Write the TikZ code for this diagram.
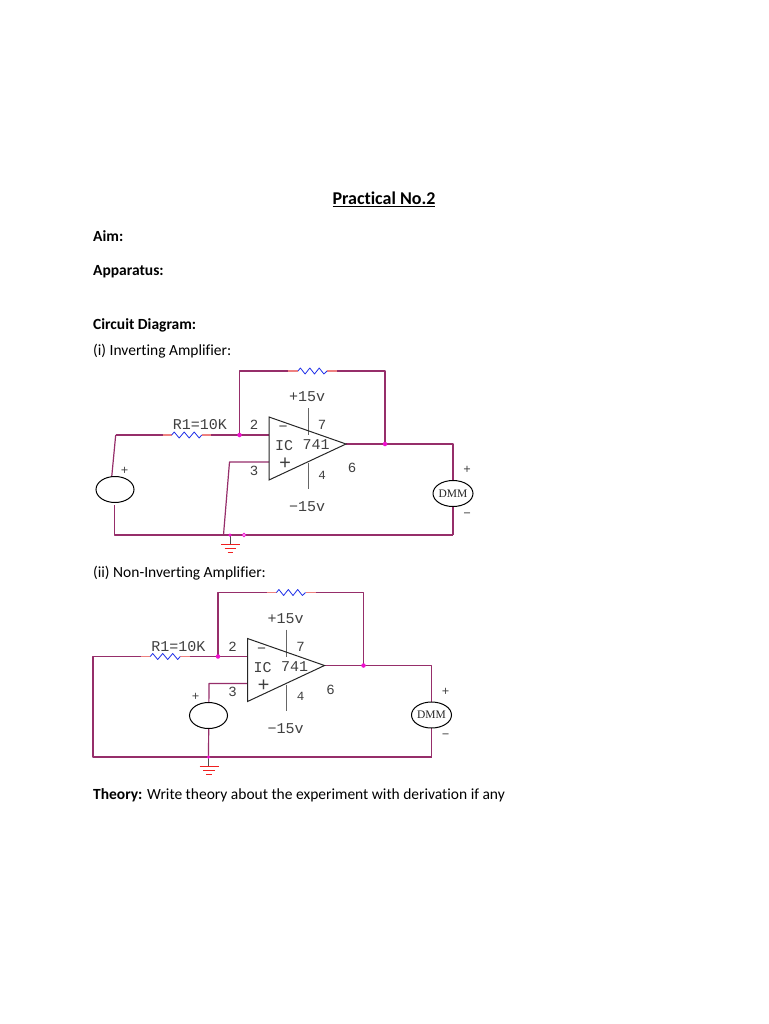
\documentclass[tikz,border=0pt]{standalone}
\usetikzlibrary{shapes.geometric}
\usepackage{fontspec}
\setmainfont{Carlito}[Ligatures=NoCommon]
\newfontfamily\circfont{Liberation Mono}
\newfontfamily\dmmfont{Liberation Serif}
\definecolor{wirecol}{HTML}{962E6A}
\definecolor{leadcol}{HTML}{EE8080}
\definecolor{gndcol}{HTML}{F02020}
\definecolor{zigcol}{HTML}{2030E8}
\definecolor{dotcol}{HTML}{F010D0}
\begin{document}
\begin{tikzpicture}[x=1pt,y=-1pt,
  wire/.style={draw=wirecol,line width=1.2pt,line join=round},
  pinline/.style={draw=black!60,line width=1pt},
  lead/.style={draw=leadcol,line width=1.2pt},
  zig/.style={draw=zigcol,line width=0.8pt,line join=round},
  comp/.style={draw=black!85,line width=1pt},
  gndstem/.style={draw=black!70,line width=1pt},
  gnd/.style={draw=gndcol,line width=1pt},
  dotn/.style={circle,fill=dotcol,inner sep=0pt,minimum size=4.5pt},
  opendot/.style={circle,draw=dotcol,fill=white,line width=0.9pt,inner sep=0pt,minimum size=4.5pt},
  ctext/.style={font=\circfont\fontsize{15}{16}\selectfont,text=black!75,inner sep=0pt},
  pintext/.style={ctext,font=\circfont\fontsize{14}{15}\selectfont},
  smalltext/.style={ctext,font=\circfont\fontsize{12.5}{14}\selectfont},
  ptext/.style={font=\fontsize{15.5}{18}\selectfont,text=black,anchor=base west,inner sep=0pt},
  btext/.style={ptext,font=\fontsize{15.5}{18}\selectfont\bfseries},
  srcshape/.style={shape=ellipse,draw=black,line width=1pt,fill=white,minimum width=38pt,minimum height=26pt,inner sep=0pt},
]
\useasboundingbox (0,0) rectangle (768,1024);
\fill[white] (0,0) rectangle (768,1024);

\node[ptext,anchor=base,font=\fontsize{18}{20}\selectfont\bfseries] (title) at (384,205) {\underline{Practical No.2}};
\node[btext] (aim) at (93,241) {Aim:};
\node[btext] (app) at (93,275) {Apparatus:};
\node[btext] (cd) at (93,329) {Circuit Diagram:};
\node[ptext] (inv) at (93,355) {(i) Inverting Amplifier:};
\node[ptext] (ninv) at (93,577) {(ii) Non-Inverting Amplifier:};
\node[ptext] (th) at (93,799) {\textbf{Theory:} Write theory about the experiment with derivation if any};

\newcommand{\ampbody}[1]{%
  \coordinate (#1tl) at (269,417);
  \coordinate (#1bl) at (269,480);
  \coordinate (#1out) at (346,444);
  \coordinate (#1in) at (269,435);
  \coordinate (#1ip) at (269,462);
  \coordinate (#1j) at (239.5,435);
  \coordinate (#1fa) at (239.5,371);
  \coordinate (#1fb) at (385,371);
  \coordinate (#1k) at (385,444);
  \coordinate (#1dc) at (453,444);
  \coordinate (#1dd) at (453,535);
  \coordinate (#1va) at (308,408);
  \coordinate (#1vb) at (308,435);
  \coordinate (#1vc) at (308,463);
  \coordinate (#1vd) at (308,489);
  \draw[wire] (#1in) -- (#1j) -- (#1fa) -- (#1fb) -- (#1k);
  \draw[draw=white,line width=1.6pt] (298,371) -- (327,371);
  \draw[lead] (288,371) -- (298,371) (327,371) -- (337,371);
  \draw[zig] (298,371) -- ++(2.4,-3) -- ++(4.7,6) -- ++(4.7,-6) -- ++(4.7,6) -- ++(4.7,-6) -- ++(4.7,6) -- (327,371);
  \draw[wire] (#1out) -- (#1k) -- (#1dc) -- (#1dd);
  \node[srcshape,minimum width=40pt] (#1dmm) at (453,493.5) {};
  \node[ctext,font=\dmmfont\fontsize{11.5}{13}\selectfont,text=black!85] (#1dmmt) at (#1dmm) {DMM};
  \draw[pinline] (#1va) -- (#1vb) (#1vc) -- (#1vd);
  \draw[comp] (#1tl) -- (#1out) -- (#1bl) -- cycle;
  \node[ctext] (#1p15) at (307,397) {+15v};
  \node[ctext] (#1m15) at (307,507) {−15v};
  \node[pintext] (#1n7) at (322,425) {7};
  \node[smalltext] (#1n4) at (322,475) {4};
  \node[pintext] (#1n6) at (352,468) {6};
  \node[pintext] (#1n2) at (254,425) {2};
  \node[pintext] (#1n3) at (254,470.5) {3};
  \node[ctext] (#1minus) at (283,429) {−};
  \node[ctext,font=\circfont\fontsize{20}{20}\selectfont] (#1plus) at (285,464) {+};
  \node[ctext] (#1ic) at (284,446) {IC};
  \node[ctext] (#1n741) at (316,445) {741};
  \node[ctext] (#1r1) at (200,425) {R1=10K};
  \node[smalltext] (#1mp) at (467,470) {+};
  \node[smalltext] (#1mm) at (467,515) {−};
  \node[dotn] (#1jd) at (#1j) {};
  \node[dotn] (#1kd) at (#1k) {};
}
\newcommand{\inres}{%
  \draw[draw=white,line width=1.6pt] (171.7,435) -- (201.7,435);
  \draw[lead] (162.7,435) -- (171.7,435) (201.7,435) -- (211,435);
  \draw[zig] (171.7,435) -- ++(2.5,-3) -- ++(5,6) -- ++(5,-6) -- ++(5,6) -- ++(5,-6) -- ++(5,6) -- (201.7,435);
}

% circuit (i)
\coordinate (Asa) at (115.7,435);
\coordinate (Asb) at (111.7,477);
\coordinate (Asc) at (114.5,505);
\coordinate (Asd) at (114.5,535);
\coordinate (Agt) at (230,535);
\coordinate (Ag) at (230,544);
\coordinate (Ar) at (229.5,462);
\coordinate (As) at (223.5,535);
\coordinate (Ae) at (453,535);
\draw[wire] (Asa) -- (269,435);
\draw[wire] (Asc) -- (Asd) -- (Ae);
\draw[wire] (Asa) -- (Asb);
\draw[wire] (269,462) -- (Ar) -- (As);
\draw[gndstem] (Agt) -- (Ag);
\draw[gnd] (221,544) -- (240,544) (224.5,548) -- (236,548) (227.5,552) -- (233,552);
\inres
\ampbody{A}
\node[srcshape] (Asrc) at (115,489.5) {};
\node[smalltext] (Aps) at (124.5,470.5) {+};
\node[dotn,minimum size=3.5pt] (Agd) at (Agt) {};
\node[opendot,minimum size=3.5pt] (Aod) at (244,535) {};

% circuit (ii)
\begin{scope}[shift={(-21.5,221.5)}]
  \coordinate (Bla) at (114.5,435);
  \coordinate (Blb) at (114.5,535.5);
  \coordinate (Be) at (453,535.5);
  \coordinate (Bgt) at (230,535.5);
  \coordinate (Bg) at (230,544.5);
  \coordinate (Br) at (230.5,462);
  \draw[wire] (269,435) -- (Bla) -- (Blb) -- (Be);
  \draw[wire] (269,462) -- (Br) -- (Bgt);
  \draw[gndstem] (Bgt) -- (Bg);
  \draw[gnd] (221,544.5) -- (240,544.5) (224.5,548.5) -- (236,548.5) (227.5,552.5) -- (233,552.5);
  \inres
  \ampbody{B}
  \node[srcshape] (Bsrc) at (230,494) {};
  \node[smalltext] (Bps) at (217,475) {+};
  \node[dotn,minimum size=3.5pt] (Bgd) at (Bgt) {};
\end{scope}
\end{tikzpicture}
\end{document}
